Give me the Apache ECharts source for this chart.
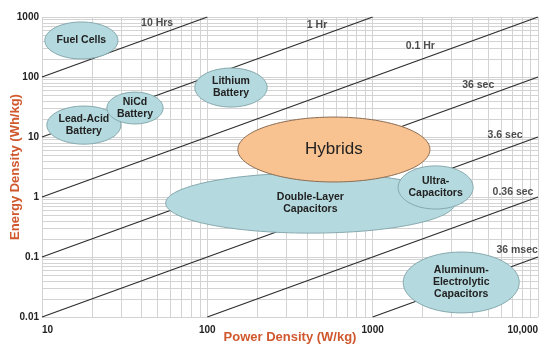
<!DOCTYPE html>
<html>
<head>
<meta charset="utf-8">
<script src="https://cdn.jsdelivr.net/npm/echarts@6/dist/echarts.min.js"></script>
<style>
  html, body { margin: 0; padding: 0; background: #fff; }
  #chart { width: 548px; height: 351px; }
</style>
</head>
<body>
<div id="chart"></div>
<script>
// technologies: power range (W/kg) and energy range (Wh/kg) of each blob
const techNames = ['Fuel Cells', 'Lead-Acid\nBattery', 'NiCd\nBattery', 'Lithium\nBattery',
  'Double-Layer\nCapacitors', 'Hybrids', 'Ultra-\nCapacitors', 'Aluminum-\nElectrolytic\nCapacitors']
const techPower = [[10.4, 28.8], [10.7, 30], [24.7, 54], [84, 230], [56, 3150], [153, 2220], [1425, 4050], [1530, 7700]]
const techEnergy = [[200, 826], [7.6, 32.8], [16.5, 56], [31.6, 141], [0.25, 2.5], [1.78, 21.5], [0.63, 3.3], [0.0117, 0.121]]

// constant discharge-time lines
const lineNames = ['10 Hrs', '1 Hr', '0.1 Hr', '36 sec', '3.6 sec', '0.36 sec', '36 msec']
const lineStarts = [[10, 100], [10, 10], [10, 1], [10, 0.1], [10, 0.01], [100, 0.01], [1000, 0.01]]
const lineEnds = [[100, 1000], [1000, 1000], [10000, 1000], [10000, 100], [10000, 10], [10000, 1], [10000, 0.1]]
const lineLabelAt = [[49.7, 794], [461, 736], [1940, 329], [4350, 73.6], [6320, 10.8], [7060, 1.21], [7480, 0.131]]

const xTickLabels = { 1: '10', 2: '100', 3: '1000', 4: '10,000' }
const yTickLabels = { '-2': '0.01', '-1': '0.1', 0: '1', 1: '10', 2: '100', 3: '1000' }
const minorSteps = [2, 3, 4, 5, 6, 7, 8, 9]
const xDecades = [10, 100, 1000]
const yDecades = [0.01, 0.1, 1, 10, 100]

const accent = '#d0582e'
const gridColor = '#d3d3d3'
const blobStyle = { fill: '#b4d9de', stroke: '#86a9ae' }
const hybridStyle = { fill: '#f9c391', stroke: '#8c6c52' }

const chart = echarts.init(document.getElementById('chart'))

const minorX = []
xDecades.forEach(d => minorSteps.forEach(m => minorX.push({ xAxis: d * m })))
const minorY = []
yDecades.forEach(d => minorSteps.forEach(m => minorY.push({ yAxis: +(d * m).toPrecision(3) })))

const lineSeries = lineNames.map((n, i) => ({
  name: n,
  type: 'line',
  data: [lineStarts[i], lineEnds[i]],
  symbol: 'none',
  silent: true,
  z: 2,
  lineStyle: { color: '#2e2e2e', width: 1.3 }
}))

const option = {
  animation: false,
  backgroundColor: '#fff',
  grid: { left: 42, right: 10, top: 17, bottom: 34, containLabel: false, outerBoundsMode: 'none' },
  xAxis: {
    type: 'log',
    min: 10,
    max: 10000,
    name: 'Power Density (W/kg)',
    nameLocation: 'middle',
    nameGap: 14,
    nameMoveOverlap: false,
    nameTextStyle: { color: accent, fontWeight: 'bold', fontSize: 13, fontFamily: 'Liberation Sans' },
    axisLine: { show: false },
    axisTick: { show: false },
    axisLabel: {
      margin: 8,
      color: '#222',
      fontWeight: 'bold',
      fontSize: 10,
      fontFamily: 'Liberation Sans',
      alignMinLabel: 'left',
      alignMaxLabel: 'right',
      formatter: v => xTickLabels[Math.round(Math.log10(v))] || ''
    },
    splitLine: { show: true, lineStyle: { color: gridColor, width: 1 } }
  },
  yAxis: {
    type: 'log',
    min: 0.01,
    max: 1000,
    name: 'Energy Density (Wh/kg)',
    nameLocation: 'middle',
    nameGap: 20,
    nameMoveOverlap: false,
    nameTextStyle: { color: accent, fontWeight: 'bold', fontSize: 13, fontFamily: 'Liberation Sans' },
    axisLine: { show: false },
    axisTick: { show: false },
    axisLabel: {
      margin: 3,
      color: '#222',
      fontWeight: 'bold',
      fontSize: 10,
      fontFamily: 'Liberation Sans',
      formatter: v => yTickLabels[Math.round(Math.log10(v))] || ''
    },
    splitLine: { show: true, lineStyle: { color: gridColor, width: 1 } }
  },
  series: [
    {
      type: 'line',
      data: [[10, 0.01]],
      symbol: 'none',
      silent: true,
      z: 1,
      markLine: {
        z: 1,
        silent: true,
        symbol: 'none',
        label: { show: false },
        lineStyle: { color: gridColor, width: 1, type: 'solid' },
        data: minorX.concat(minorY)
      }
    },
    ...lineSeries,
    {
      type: 'custom',
      z: 3,
      silent: true,
      encode: { x: [0, 1], y: [2, 3] },
      data: techNames.map((n, i) => [techPower[i][0], techPower[i][1], techEnergy[i][0], techEnergy[i][1], n]),
      renderItem: (params, api) => {
        const i = params.dataIndex
        const p1 = api.coord([api.value(0), api.value(3)])
        const p2 = api.coord([api.value(1), api.value(2)])
        const cx = (p1[0] + p2[0]) / 2
        const cy = (p1[1] + p2[1]) / 2
        const isHybrid = techNames[i] === 'Hybrids'
        const st = isHybrid ? hybridStyle : blobStyle
        return {
          type: 'group',
          children: [
            {
              type: 'ellipse',
              shape: { cx, cy, rx: Math.abs(p2[0] - p1[0]) / 2, ry: Math.abs(p2[1] - p1[1]) / 2 },
              style: { fill: st.fill, stroke: st.stroke, lineWidth: 1 }
            },
            {
              type: 'text',
              style: {
                text: techNames[i],
                x: cx,
                y: cy,
                align: 'center',
                verticalAlign: 'middle',
                fill: '#222',
                lineHeight: isHybrid ? 18 : 12,
                font: isHybrid ? '17px "Liberation Sans"' : 'bold 10.5px "Liberation Sans"'
              }
            }
          ]
        }
      }
    },
    {
      type: 'scatter',
      z: 4,
      silent: true,
      symbolSize: 0,
      data: lineNames.map((n, i) => [lineLabelAt[i][0], lineLabelAt[i][1], n]),
      label: {
        show: true,
        position: 'inside',
        formatter: p => p.value[2],
        color: '#222',
        fontWeight: 'bold',
        fontSize: 10.5,
        fontFamily: 'Liberation Sans'
      }
    }
  ]
}

chart.setOption(option)
</script>
</body>
</html>
